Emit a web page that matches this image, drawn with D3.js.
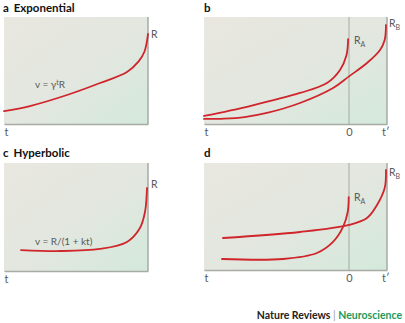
<!DOCTYPE html>
<html><head><meta charset="utf-8">
<script src="https://cdn.jsdelivr.net/npm/d3@7"></script>
<style>
html,body{margin:0;padding:0;background:#fff;}
svg{display:block;font-family:Lato,"Open Sans",sans-serif;}
</style></head>
<body>
<svg id="c" width="405" height="323"></svg>
<script>
// ---- data (abstract units: x = time, y = value, 0..100 of plot height) ----
const panelLetters = ["a", "b", "c", "d"];
const panelTitles = ["Exponential", "", "Hyperbolic", ""];
const ticksAC = [0];
const tickLabelsAC = ["t"];
const ticksBD = [-100, 0, 25];
const tickLabelsBD = ["t", "0", "t\u2032"];

const curveA = [[0,12.1],[18,16.8],[43.8,27.1],[66.7,38.3],[85.4,48.6],[93.5,58.5],[97.5,67.5],[100,84.1]];
const curveC = [[11.8,19.4],[38.9,18.5],[66.7,20.4],[85.4,26.9],[94.4,39.8],[97.9,54.6],[99.3,76.9]];
const curveB_A = [[-100,7.5],[-68.3,16.8],[-33.8,29.0],[-15.2,38.3],[-6.2,50.5],[-1.8,64],[-0.6,79.4]];
const curveB_B = [[-100,4.7],[-86,5.0],[-72,6.5],[-56.6,10.3],[-33.8,19.6],[-11.0,33.6],[0,44.5],[12.4,57.0],[21.4,69.2],[24.6,78.5],[25.5,92.5]];
const curveD_A = [[-87.6,10.3],[-45.5,10.3],[-22.1,15.9],[-11.0,26.2],[-4.1,40.2],[-0.9,54.2],[-0.2,68.2]];
const curveD_B = [[-86.9,29.9],[-33.8,35.5],[0,42.1],[12.4,48.6],[19.3,60.7],[24.6,76.6],[25.5,93.5]];

const svg = d3.select("#c");
const defs = svg.append("defs");
const g = defs.append("linearGradient").attr("id","bg").attr("x1",0).attr("y1",0).attr("x2",1).attr("y2",1);
g.append("stop").attr("offset","0%").attr("stop-color","#e9e7e0");
g.append("stop").attr("offset","55%").attr("stop-color","#e2e7df");
g.append("stop").attr("offset","100%").attr("stop-color","#d3e9db");

const red = "#cf252b";
const grey = "#a7aaa5";
const txt = "#5a5a5a";

const panels = [
  {x0:4, x1:148, y0:17, y1:124, dom:[0,100], ticks:ticksAC, labels:tickLabelsAC, curves:[curveA], letterX:3, letterY:12},
  {x0:204, x1:387, y0:17, y1:124, dom:[-100,26.2], ticks:ticksBD, labels:tickLabelsBD, curves:[curveB_A, curveB_B], letterX:204, letterY:12},
  {x0:4, x1:148, y0:163, y1:271, dom:[0,100], ticks:ticksAC, labels:tickLabelsAC, curves:[curveC], letterX:3, letterY:157},
  {x0:204, x1:387, y0:163, y1:270, dom:[-100,26.2], ticks:ticksBD, labels:tickLabelsBD, curves:[curveD_A, curveD_B], letterX:204, letterY:157}
];

panels.forEach((p, i) => {
  const x = d3.scaleLinear().domain(p.dom).range([p.x0, p.x1]);
  const y = d3.scaleLinear().domain([0,100]).range([p.y1, p.y0]);
  svg.append("rect").attr("x",p.x0).attr("y",p.y0).attr("width",p.x1-p.x0).attr("height",p.y1-p.y0)
     .attr("fill","url(#bg)");
  svg.append("line").attr("x1",p.x1).attr("x2",p.x1).attr("y1",p.y0).attr("y2",p.y1)
     .attr("stroke",grey).attr("stroke-width",1.5);
  if (p.dom[0] < 0) {
    svg.append("line").attr("x1",x(0)).attr("x2",x(0)).attr("y1",p.y0).attr("y2",p.y1)
       .attr("stroke",grey).attr("stroke-width",1);
  }
  const ax = d3.axisBottom(x).tickValues(p.ticks).tickSize(0).tickSizeOuter(0)
    .tickFormat((d, k) => p.labels[k]).tickPadding(4);
  const axg = svg.append("g").attr("transform",`translate(0,${p.y1})`).call(ax);
  axg.select(".domain").attr("stroke",grey).attr("stroke-width",1.5);
  axg.selectAll("text").attr("fill",txt).attr("font-size",11).attr("font-family","Lato, sans-serif");
  axg.selectAll(".tick text").attr("text-anchor",(d,k)=> k===0 ? "start" : "middle");
  const line = d3.line().x(d=>x(d[0])).y(d=>y(d[1])).curve(d3.curveCatmullRom.alpha(0.5));
  p.curves.forEach(c => {
    svg.append("path").datum(c).attr("d",line).attr("fill","none")
       .attr("stroke",red).attr("stroke-width",1.8).attr("stroke-linecap","round");
  });
  const t = svg.append("text").attr("x",p.letterX).attr("y",p.letterY)
     .attr("font-weight","bold").attr("font-size",11.5).attr("fill","#111");
  t.append("tspan").text(panelLetters[i]);
  if (panelTitles[i]) t.append("tspan").attr("dx",5).text(panelTitles[i]);
});

function label(xp, yp, main, sub) {
  const t = svg.append("text").attr("x",xp).attr("y",yp).attr("fill",txt).attr("font-size",10.5);
  t.append("tspan").text(main);
  if (sub) t.append("tspan").attr("font-size",7).attr("dy",3).text(sub);
}
label(151, 38, "R");
label(151, 188, "R");
label(354, 44, "R", "A");
label(389, 27, "R", "B");
label(354, 201, "R", "A");
label(389, 176, "R", "B");

const f1 = svg.append("text").attr("x",35).attr("y",88).attr("fill",txt).attr("font-size",10);
f1.append("tspan").text("v = \u03b3");
f1.append("tspan").attr("font-size",7).attr("dy",-3).text("t");
f1.append("tspan").attr("dy",3).text("R");
svg.append("text").attr("x",35).attr("y",245).attr("fill",txt).attr("font-size",10).text("v = R/(1 + kt)");

const foot = svg.append("text").attr("x",402).attr("y",319).attr("text-anchor","end")
   .attr("font-size",10.5).attr("font-weight","bold");
foot.append("tspan").attr("fill","#222").text("Nature Reviews ");
foot.append("tspan").attr("fill","#999").attr("font-weight","normal").text("| ");
foot.append("tspan").attr("fill","#1b9a5b").text("Neuroscience");
</script>
</body></html>
